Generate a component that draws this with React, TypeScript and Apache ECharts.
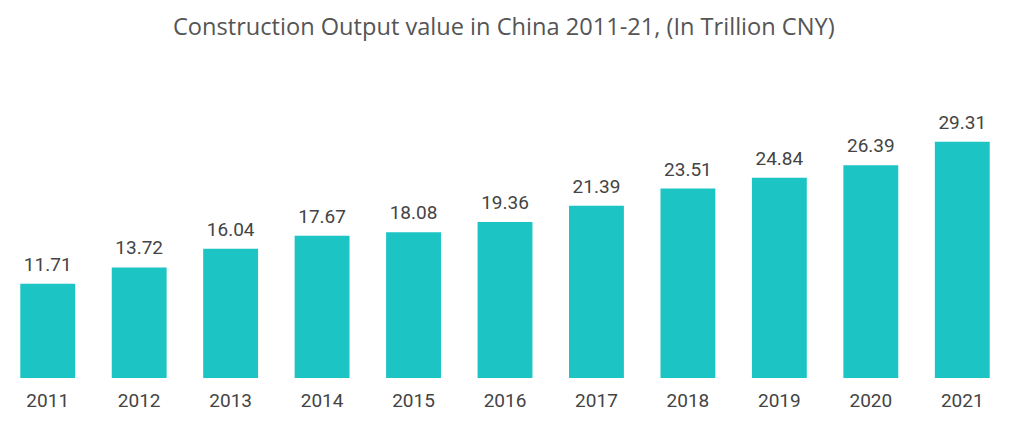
import React, { useEffect, useRef } from "react";
import * as echarts from "echarts";

const years = ["2011", "2012", "2013", "2014", "2015", "2016", "2017", "2018", "2019", "2020", "2021"];
const values = [11.71, 13.72, 16.04, 17.67, 18.08, 19.36, 21.39, 23.51, 24.84, 26.39, 29.31];
const titleText = "Construction Output value in China 2011-21, (In Trillion CNY)";

export default function App() {
  const ref = useRef<HTMLDivElement>(null);
  useEffect(() => {
    if (!ref.current) return;
    const chart = echarts.init(ref.current, null, { renderer: "svg" });
    chart.setOption({
      animation: false,
      title: {
        text: titleText,
        left: 168,
        top: 9,
        textStyle: { fontFamily: "Open Sans", fontSize: 23.6, fontWeight: "normal", color: "#555" },
      },
      grid: { left: 2, right: 16, top: 96, bottom: 70, containLabel: false },
      xAxis: {
        type: "category",
        data: years,
        axisLine: { show: false },
        axisTick: { show: false },
        axisLabel: { color: "#444", fontSize: 19, fontFamily: "Roboto", margin: 13 },
      },
      yAxis: {
        type: "value",
        min: 0,
        max: 35,
        show: false,
        splitLine: { show: false },
      },
      series: [
        {
          type: "bar",
          data: values,
          barWidth: "60%",
          itemStyle: { color: "#1DC4C4" },
          label: {
            show: true,
            position: "top",
            distance: 10,
            color: "#444",
            fontSize: 19,
            fontFamily: "Roboto",
            formatter: (p: any) => p.value.toFixed(2),
          },
        },
      ],
    });
    return () => chart.dispose();
  }, []);
  return <div ref={ref} style={{ width: 1024, height: 448, position: "absolute", left: 0, top: 0 }} />;
}
